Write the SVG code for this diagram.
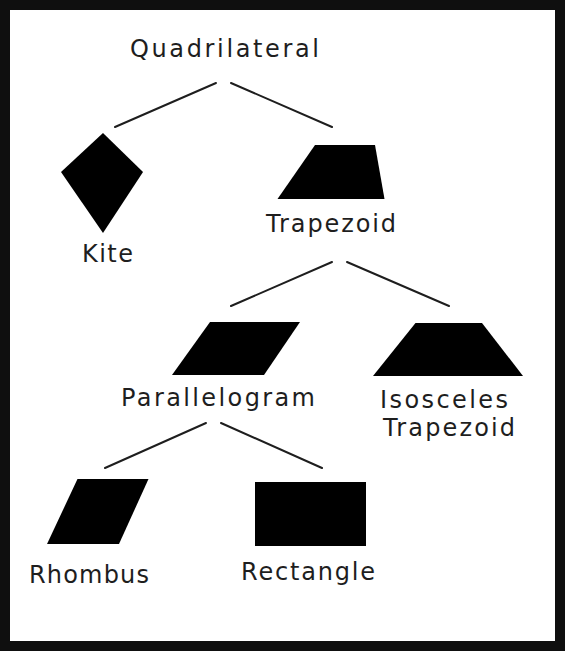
<svg xmlns="http://www.w3.org/2000/svg" width="565" height="651" viewBox="0 0 565 651">
<style>
.t{font-family:"DejaVu Sans","Liberation Sans",sans-serif;font-size:24px;fill:#1e1e1e}
.s{fill:#000}
.c{stroke:#1e1e1e;stroke-width:2;fill:none;stroke-linecap:round}
</style>
<rect x="0" y="0" width="565" height="651" fill="#0f0f0f"/>
<rect x="10" y="10" width="545" height="631" fill="#fff"/>
<g id="connectors">
<line class="c" x1="216" y1="83" x2="115" y2="127"/>
<line class="c" x1="231" y1="83" x2="332" y2="127"/>
<line class="c" x1="332" y1="262" x2="231" y2="306"/>
<line class="c" x1="347" y1="262" x2="449" y2="306"/>
<line class="c" x1="206" y1="423" x2="105" y2="468"/>
<line class="c" x1="221" y1="423" x2="322" y2="468"/>
</g>
<g id="quadrilateral">
<text class="t" x="130" y="57" textLength="189">Quadrilateral</text>
</g>
<g id="kite">
<polygon class="s" points="103,133 143,172 103,233 61,172"/>
<text class="t" x="82" y="262" textLength="51">Kite</text>
</g>
<g id="trapezoid">
<polygon class="s" points="315,145 375,145 384.5,199 277.5,199"/>
<text class="t" x="266" y="232" textLength="130">Trapezoid</text>
</g>
<g id="parallelogram">
<polygon class="s" points="210,322 300,322 264,375 172,375"/>
<text class="t" x="121" y="406" textLength="194">Parallelogram</text>
</g>
<g id="isosceles-trapezoid">
<polygon class="s" points="415.5,323 482,323 523,376 373,376"/>
<text class="t" x="380" y="408" textLength="128">Isosceles</text>
<text class="t" x="383" y="436" textLength="132">Trapezoid</text>
</g>
<g id="rhombus">
<polygon class="s" points="77.5,479 148.5,479 119,544 47,544"/>
<text class="t" x="29" y="583" textLength="120">Rhombus</text>
</g>
<g id="rectangle">
<rect class="s" x="255" y="482" width="111" height="64"/>
<text class="t" x="241" y="580" textLength="134">Rectangle</text>
</g>
</svg>
